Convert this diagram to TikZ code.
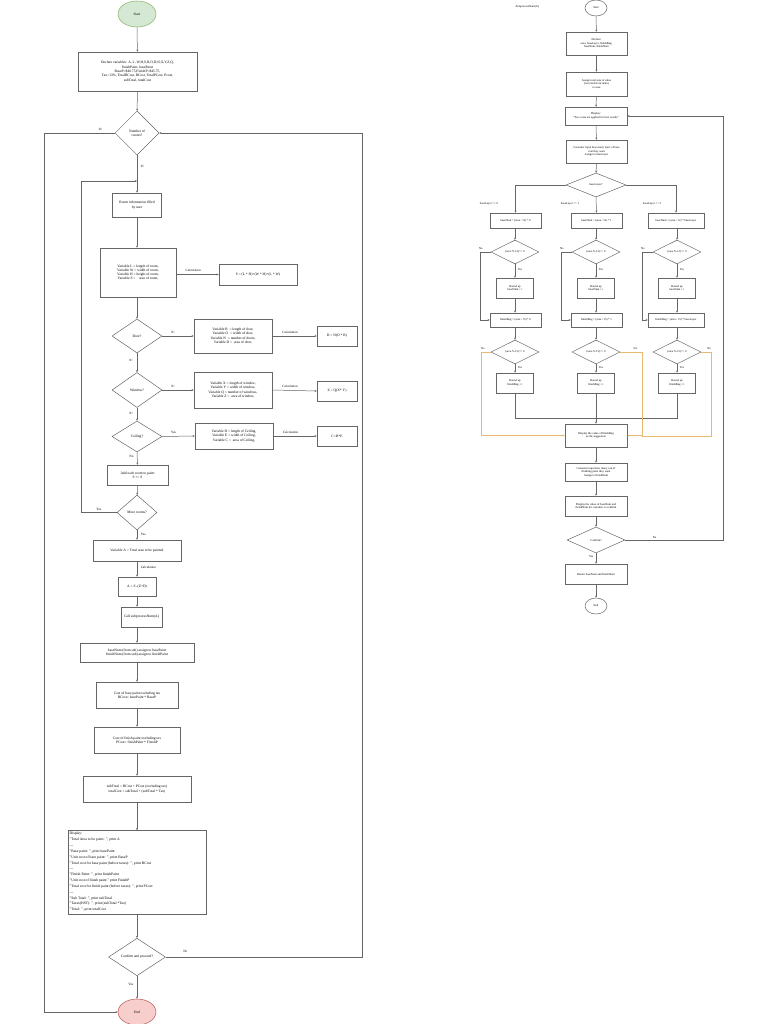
\documentclass[tikz,border=0pt]{standalone}
\usepackage{fontspec}
\setmainfont{Liberation Serif}
\usetikzlibrary{shapes.geometric,arrows.meta,fit}
\definecolor{ln}{HTML}{666666}
\definecolor{gfill}{HTML}{D5E8D4}\definecolor{gdraw}{HTML}{82B366}
\definecolor{rfill}{HTML}{F8CECC}\definecolor{rdraw}{HTML}{B85450}
\definecolor{org}{HTML}{E6B870}
\begin{document}
\begin{tikzpicture}[x=1pt,y=-1pt,
  every node/.style={font=\fontsize{3.6}{4.3}\selectfont, inner sep=0.5pt, align=center},
  box/.style={draw=ln, line width=0.5pt, fill=white, rectangle},
  dia/.style={draw=ln, line width=0.5pt, fill=white, diamond},
  ell/.style={draw=ln, line width=0.5pt, fill=white, ellipse},
  lab/.style={font=\fontsize{3.3}{4}\selectfont},
  sm/.style={font=\fontsize{2.9}{3.5}\selectfont},
  ar/.style={draw=ln, line width=0.5pt, -{Stealth[length=2.2pt,width=2pt]}},
  pl/.style={draw=ln, line width=0.5pt},
  oar/.style={draw=org, line width=0.5pt, -{Stealth[length=2.2pt,width=2pt]}}]
\useasboundingbox (0,0) rectangle (768,1024);
\fill[white] (0,0) rectangle (768,1024);
% ---------- left chart ----------
\node[ell, fill=gfill, draw=gdraw, minimum width=38pt, minimum height=26pt] (start) at (137,14) {Start};
\node[box, minimum width=119pt, minimum height=39pt] (decl) at (137.5,71.5) {Declare variables: A, L, W,H,S,R,O,D,N,X,Y,Z,Q,\\ finishPaint, basePaint\\ BaseP=\$40.75,FinishP=\$45.75,\\ Tax=13\%, TotalBCost, BCost, TotalPCost, Pcost,\\ subTotal, totalCost};
\node[dia, minimum width=44pt, minimum height=44pt] (nrooms) at (137,133) {Number of\\ rooms?};
\node[box, minimum width=49pt, minimum height=24pt] (room) at (137,205) {Room information filled\\ by user};
\node[box, minimum width=76pt, minimum height=49pt] (vars) at (138,272.5) {Variable L = length of room,\\ Variable W = width of room,\\ Variable H = height of room,\\ Variable S = \ \ \ area of room,};
\node[box, minimum width=78pt, minimum height=21pt] (scalc) at (258,274.5) {S = (L * H)+(W * H)+(L * W)};
\node[dia, minimum width=50pt, minimum height=34pt] (door) at (137,336) {Door?};
\node[box, minimum width=78pt, minimum height=34pt] (dvars) at (233,336) {Variable R \ = length of door,\\ Variable O \ = width of door,\\ Variable N \ = number of doors,\\ Variable D = \ area of door,};
\node[box, minimum width=40pt, minimum height=20pt] (dcalc) at (337,336) {D = N(O * R)};
\node[dia, minimum width=50pt, minimum height=35pt] (win) at (137,390) {Window?};
\node[box, minimum width=78pt, minimum height=36pt] (wvars) at (233,390) {Variable X = length of window,\\ Variable Y = width of window,\\ Variable Q = number of windows,\\ Variable Z = \ area of window,};
\node[box, minimum width=40pt, minimum height=20pt] (zcalc) at (337,391) {Z = Q(X* Y)};
\node[dia, minimum width=50pt, minimum height=31pt] (ceil) at (137,436.5) {Ceiling?};
\node[box, minimum width=78pt, minimum height=26pt] (cvars) at (234,436) {Variable H = length of Ceiling,\\ Variable E = width of Ceiling,\\ Variable C = \ area of Ceiling,};
\node[box, minimum width=40pt, minimum height=20pt] (ccalc) at (337,436) {C=H*E};
\node[box, minimum width=61pt, minimum height=20pt] (add) at (137.5,475) {Add each room to paint\\ S += S};
\node[dia, minimum width=40pt, minimum height=35pt] (more) at (137,512.5) {More rooms?};
\node[box, minimum width=88pt, minimum height=21pt] (vara) at (137,550.5) {Variable A = Total area to be painted};
\node[box, minimum width=38pt, minimum height=19pt] (acalc) at (137,586.5) {A = S -(Z+D)};
\node[box, minimum width=41pt, minimum height=20pt] (call) at (141.5,617) {Call subprocessNum(A)};
\node[box, minimum width=114pt, minimum height=19pt] (base) at (137,652.5) {baseNum (from sub) assign to basePaint\\ finishNum (from sub) assign to finishPaint};
\node[box, minimum width=82pt, minimum height=26pt] (costb) at (137,695) {Cost of base paint excluding tax\\ BCost= basePaint * BaseP};
\node[box, minimum width=86pt, minimum height=26pt] (costf) at (137,740) {Cost of finish paint excluding tax\\ PCost= finishPaint * FinishP};
\node[box, minimum width=108pt, minimum height=26pt] (sub) at (137,789) {subTotal = BCost + PCost (excluding tax)\\ totalCost = subTotal + (subTotal * Tax)};
\coordinate (dtl) at (68,830.5); \coordinate (dbr) at (206,914.5);
\node[box, fit=(dtl)(dbr), inner sep=0pt] (disp) {};
\node[align=left, anchor=north west, inner sep=0pt, font=\fontsize{3.7}{5.85}\selectfont] (dtext) at (69.5,832) {Display:\\ "Total Area to be paint: ", print A\\ -{}-{}-\\ "Base paint: ", print basePaint\\ "Unit cost of base paint: ", print BaseP\\ "Total cost for base paint (before taxes): ", print BCost\\ -{}-{}-\\ "Finish Paint: ", print finishPaint\\ "Unit cost of finish paint:" print FinishP\\ "Total cost for finish paint (before taxes): ", print PCost\\ -{}-{}-\\ "Sub Total: ", print subTotal\\ "Taxes(HST): ", print (subTotal *Tax)\\ "Total: ", print totalCost};
\node[dia, minimum width=57pt, minimum height=26pt] (conf) at (137,957) {Confirm and proceed?};
\node[ell, fill=rfill, draw=rdraw, minimum width=38pt, minimum height=26pt] (end) at (137,1012) {\itshape End};
% connectors left
\draw[ar] (start) -- (decl);
\draw[ar] (decl) -- (nrooms);
\draw[ar] (nrooms.south) -- (room.north) node[lab, pos=0.3, right=3pt] {0<};
\draw[ar] (room) -- (vars.north -| room.south);
\draw[ar] (vars.south -| room.south) -- (door.north);
\draw[ar] (vars.east |- scalc) -- (scalc.west) node[lab, pos=0.4, above=2pt] {Calculation};
\draw[ar] (door.east) -- (dvars.west) node[lab, pos=0.35, above=2pt] {0<};
\draw[ar] (dvars.east) -- (dcalc.west) node[lab, pos=0.4, above=2pt] {Calculation};
\draw[ar] (door.south) -- (win.north) node[lab, pos=0.4, left=3pt] {0>};
\draw[ar] (win.east) -- (wvars.west) node[lab, pos=0.35, above=2pt] {0<};
\draw[ar] (wvars.east) -- (zcalc.west) node[lab, pos=0.4, above=2pt] {Calculation};
\draw[ar] (win.south) -- (ceil.north) node[lab, pos=0.4, left=3pt] {0>};
\draw[ar] (ceil.east) -- (cvars.west) node[lab, pos=0.35, above=2pt] {Yes};
\draw[ar] (cvars.east) -- (ccalc.west) node[lab, pos=0.4, above=2pt] {Calculation};
\draw[ar] (ceil.south) -- (add.north) node[lab, pos=0.3, left=3pt] {No};
\draw[ar] (add) -- (more);
\coordinate (lp1) at (81,512.5); \coordinate (lp2) at (81,181); \coordinate (lp3) at (137,181);
\draw[ar] (more.west) -- (lp1) node[lab, pos=0.5, above=1pt] {Yes} -- (lp2) -- (lp3);
\draw[ar] (more.south) -- (vara.north) node[lab, pos=0.4, right=3pt] {Yes};
\draw[ar] (vara) -- (acalc) node[lab, pos=0.4, right=3pt] {Calculation};
\draw[ar] (acalc) -- (call.north -| acalc.south);
\draw[ar] (call.south -| acalc.south) -- (base);
\draw[ar] (base) -- (costb);
\draw[ar] (costb) -- (costf);
\draw[ar] (costf) -- (sub);
\draw[ar] (sub) -- (disp.north -| sub.south);
\draw[ar] (disp.south -| sub.south) -- (conf.north);
\draw[ar] (conf.south) -- (end.north) node[lab, pos=0.35, left=3pt] {Yes};
\coordinate (ol1) at (44,133); \coordinate (or1) at (362,957); \coordinate (or2) at (362,133);
\draw[ar] (nrooms.west) -- (ol1) node[lab, pos=0.2, above=2pt] {0=} |- (end.west);
\draw[ar] (conf.east) -- (or1) node[lab, pos=0.1, above=4pt] {No} -- (or2) -- (nrooms.east);
% ---------- right chart ----------
\begin{scope}[every node/.append style={font=\fontsize{2.9}{3.5}\selectfont}]
\node[sm] (title) at (527,7) {-SubprocessNum(A)};
\node[ell, minimum width=22pt, minimum height=16pt] (rstart) at (596,8) {Start};
\node[box, minimum width=61pt, minimum height=23pt] (rdecl) at (596.5,43.5) {Declare:\\ area, baseLayer, finishBag,\\ baseNum, finishNum};
\node[box, minimum width=61pt, minimum height=24pt] (rassign) at (596.5,84) {Assign total area A value\\ (received from main)\\ to area};
\node[box, minimum width=62pt, minimum height=18pt] (rdisp) at (596,116) {Display:\\ "Two coats are applied for best results"};
\node[box, minimum width=61pt, minimum height=23pt] (rcust) at (596.5,151.5) {Customer input how many layer of base\\ coat they want\\ Assign to baseLayer};
\node[dia, minimum width=60pt, minimum height=24pt] (bl) at (596,185) {baseLayer?};
\foreach \i/\x in {0/515,1/596,2/677}{
  \node[dia, minimum width=48pt, minimum height=24pt] (d\i) at (\x,252) {(area \% 12) != 0};
  \node[box, minimum width=37pt, minimum height=20pt] (r\i) at (\x,288) {Round up\\ baseNum ++};
  \node[dia, minimum width=48pt, minimum height=24pt] (e\i) at (\x,352) {(area \% 15) != 0};
  \node[box, minimum width=37pt, minimum height=20pt] (q\i) at (\x,383) {Round up\\ finishBag ++};
}
\node[box, minimum width=51pt, minimum height=15pt] (b0) at (515.5,220.5) {baseNum = (area / 12) * 0};
\node[box, minimum width=51pt, minimum height=15pt] (b1) at (596.5,220.5) {baseNum = (area / 12) * 1};
\node[box, minimum width=56pt, minimum height=15pt] (b2) at (676,220.5) {baseNum = (area / 12) * baseLayer};
\node[box, minimum width=51pt, minimum height=14pt] (f0) at (515.5,320) {finishBag = (area / 15) * 0};
\node[box, minimum width=51pt, minimum height=14pt] (f1) at (596.5,320) {finishBag = (area / 15) * 1};
\node[box, minimum width=56pt, minimum height=14pt] (f2) at (676,320) {finishBag = (area / 15) * baseLayer};
\node[box, minimum width=62pt, minimum height=23pt] (rdv) at (596,435.5) {Display the value of finishBag\\ as the suggestion};
\node[box, minimum width=62pt, minimum height=18pt] (rci) at (596,472) {Customer input how many can of\\ finishing paint they want\\ Assign to finishNum};
\node[box, minimum width=62pt, minimum height=20pt] (rdb) at (596,506) {Display the value of baseNum and\\ finishNum for customer to confirm};
\node[dia, minimum width=58pt, minimum height=26pt] (rconf) at (596,540) {Confirm?};
\node[box, minimum width=62pt, minimum height=20pt] (rret) at (596,574) {Return baseNum and finishNum};
\node[ell, minimum width=22pt, minimum height=16pt] (rend) at (596,606) {End};
\end{scope}
\draw[ar] (rstart) -- (rdecl);
\draw[ar] (rdecl) -- (rassign);
\draw[ar] (rassign) -- (rdisp);
\draw[ar] (rdisp) -- (rcust);
\draw[ar] (rcust) -- (bl);
\draw[ar] (bl.west) -| (b0.north);
\draw[ar] (bl.south) -- (b1.north);
\draw[ar] (bl.east) -| (b2.north);
\node[sm] at (489,204) {baseLayer == 0};
\node[sm] at (570,204) {baseLayer == 1};
\node[sm] at (652,204) {baseLayer == 2};
\foreach \i/\x in {0/515,1/596,2/677}{
  \draw[ar] (b\i.south -| d\i.north) -- (d\i.north);
  \draw[ar] (d\i.south) -- (r\i.north) node[sm, pos=0.4, right=2pt] {Yes};
  \draw[ar] (r\i.south) -- (f\i.north -| r\i.south);
  \draw[ar] (d\i.west) -- ++(-11,0) node[sm, pos=0.9, above=2pt] {No} |- (f\i.west);
  \draw[ar] (f\i.south -| e\i.north) -- (e\i.north);
  \draw[ar] (e\i.south) -- (q\i.north) node[sm, pos=0.4, right=2pt] {Yes};
}
\coordinate (j0) at (515,418); \coordinate (j2) at (677,418);
\draw[pl] (q0.south) -- (j0) -- (j2) -- (q2.south);
\draw[ar] (q1.south) -- (rdv.north);
\coordinate (o0) at (481,352); \coordinate (o1) at (642,352); \coordinate (o2) at (711,352); \coordinate (o3) at (711,436); \coordinate (o4) at (642,436);
\draw[oar] (e0.west) -- (o0) node[sm, pos=0.8, above=2pt, black] {No} |- (rdv.west);
\draw[oar] (e1.east) -- (o1) node[sm, pos=0.7, above=2pt, black] {No} |- (rdv.east);
\draw[draw=org, line width=0.5pt] (e2.east) -- (o2) node[sm, pos=0.8, above=2pt, black] {No} -- (o3) -- (o4);
\draw[ar] (rdv) -- (rci);
\draw[ar] (rci) -- (rdb);
\draw[ar] (rdb) -- (rconf);
\draw[ar] (rconf.south) -- (rret.north) node[sm, pos=0.3, left=2pt] {Yes};
\draw[ar] (rret) -- (rend);
\coordinate (c1) at (723,540); \coordinate (c2) at (723,116);
\draw[ar] (rconf.east) -- (c1) node[sm, pos=0.3, above=1pt] {No} -- (c2) -- (rdisp.east);
\end{tikzpicture}
\end{document}
